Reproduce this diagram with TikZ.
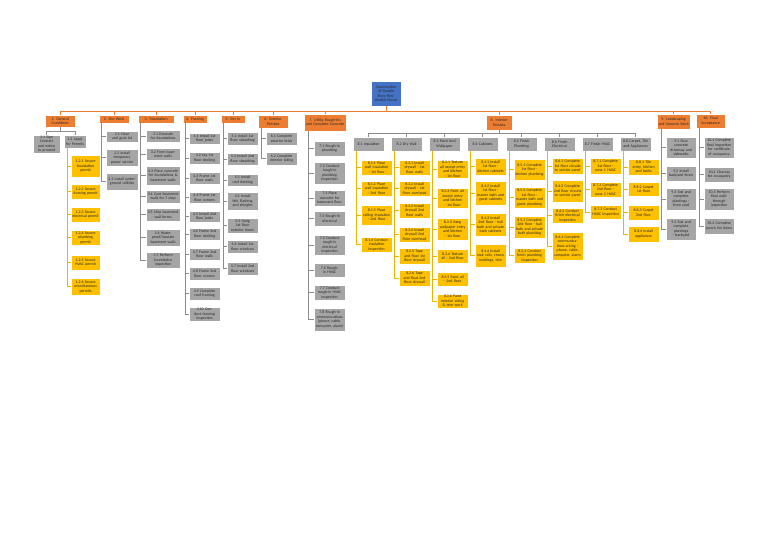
\documentclass[tikz,border=0pt]{standalone}
\usepackage{fontspec}
\setmainfont{Carlito}
\definecolor{orng}{HTML}{ED7D31}
\definecolor{blu}{HTML}{4472C4}
\definecolor{gry}{HTML}{A5A5A5}
\definecolor{gln}{HTML}{8C8C8C}
\definecolor{ylw}{HTML}{FFC000}
\definecolor{yln}{HTML}{F0B400}
\definecolor{txt}{HTML}{262626}
\tikzset{
 bxbase/.style={rectangle, align=center, inner xsep=1.1pt, inner ysep=0.3pt,
   font=\fontsize{3.9}{4.5}\selectfont, text=txt, draw=white, line width=0.2pt},
 rootbox/.style={bxbase, fill=blu},
 obox/.style={bxbase, fill=orng},
 gbox/.style={bxbase, fill=gry},
 ybox/.style={bxbase, fill=ylw},
 oline/.style={draw=orng, line width=0.5pt},
 gline/.style={draw=gln, line width=0.45pt},
 yline/.style={draw=yln, line width=0.45pt},
}
\newcommand\Bx[7]{%
  \pgfmathsetmacro\bxtw{#5-2.4}%
  \node[#1, anchor=north west, minimum width=#5pt, minimum height=#6pt, text width=\bxtw pt] (#2) at (#3,#4) {#7};}
\begin{document}
\begin{tikzpicture}[x=1pt,y=-1pt]
\fill[white] (0,0) rectangle (768,543);
\useasboundingbox (0,0) rectangle (768,543);
% root
\Bx{rootbox}{root}{371}{81}{30}{25}{Construction of Double Story Residential House}
% level 1
\Bx{obox}{n1}{45}{115}{30}{12}{1. General Conditions}
\Bx{obox}{n2}{99}{115}{30}{8}{2. Site Work}
\Bx{obox}{n3}{138}{115}{36}{8}{3. Foundation}
\Bx{obox}{n4}{183}{115}{24}{8}{4. Framing}
\Bx{obox}{n5}{221}{115}{24}{8}{5. Dry In}
\Bx{obox}{n6}{258}{115}{30}{13}{6. Exterior Finishes}
\Bx{obox}{n7}{304}{114}{42}{17}{7. Utility Rough-Ins and Complete Concrete}
\Bx{obox}{n8}{486}{115}{26}{15}{8. Interior Finishes}
\Bx{obox}{n9}{657}{114}{33}{15}{9. Landscaping and Grounds Work}
\Bx{obox}{n10}{696}{114}{29}{14}{10. Final Acceptance}
% 1
\Bx{gbox}{c1-1}{33}{135}{27}{18}{1.1 Sign Contract and notice to proceed}
\Bx{gbox}{c1-2}{64}{135}{22}{13}{1.2 Apply for Permits}
\Bx{ybox}{c1-2-1}{71}{155}{29}{22}{1.2.1 Secure foundation permit}
\Bx{ybox}{c1-2-2}{71}{184}{29}{15}{1.2.2 Secure framing permit}
\Bx{ybox}{c1-2-3}{71}{207}{29}{15}{1.2.3 Secure electrical permit}
\Bx{ybox}{c1-2-4}{71}{230}{29}{15}{1.2.4 Secure plumbing permit}
\Bx{ybox}{c1-2-5}{71}{255}{29}{15}{1.2.5 Secure HVAC permit}
\Bx{ybox}{c1-2-6}{71}{278}{29}{17}{1.2.6 Secure miscellaneous permits}
% 2
\Bx{gbox}{c2-1}{106}{131}{32}{11}{2.1 Clear and grub lot}
\Bx{gbox}{c2-2}{106}{149}{32}{17}{2.2 Install temporary power service}
\Bx{gbox}{c2-3}{106}{173}{32}{17}{2.3 Install underground utilities}
% 3
\Bx{gbox}{c3-1}{146}{130}{34}{12}{3.1 Excavate for foundations}
\Bx{gbox}{c3-2}{146}{148}{34}{12}{3.2 Form basement walls}
\Bx{gbox}{c3-3}{146}{166}{34}{19}{3.3 Place concrete for foundations \& basement walls}
\Bx{gbox}{c3-4}{146}{190}{34}{13}{3.4 Cure basement walls for 7 days}
\Bx{gbox}{c3-5}{146}{208}{34}{13}{3.5 Strip basement wall forms}
\Bx{gbox}{c3-6}{146}{229}{34}{17}{3.6 Waterproof/insulate basement walls}
\Bx{gbox}{c3-7}{146}{252}{34}{16}{3.7 Perform foundation inspection}
% 4
\Bx{gbox}{c4-1}{189}{133}{31}{11}{4.1 Install 1st floor joists}
\Bx{gbox}{c4-2}{189}{152}{31}{12}{4.2 Lay 1st floor decking}
\Bx{gbox}{c4-3}{189}{172}{31}{12}{4.3 Frame 1st floor walls}
\Bx{gbox}{c4-4}{189}{192}{31}{11}{4.4 Frame 1st floor corners}
\Bx{gbox}{c4-5}{189}{211}{31}{11}{4.5 Install 2nd floor joists}
\Bx{gbox}{c4-6}{189}{228}{31}{12}{4.6 Frame 2nd floor decking}
\Bx{gbox}{c4-7}{189}{248}{31}{12}{4.7 Frame 2nd floor walls}
\Bx{gbox}{c4-8}{189}{267}{31}{13}{4.8 Frame 2nd floor corners}
\Bx{gbox}{c4-9}{189}{287}{31}{13}{4.9 Complete roof framing}
\Bx{gbox}{c4-10}{189}{307}{31}{14}{4.10 Conduct framing inspection}
% 5
\Bx{gbox}{c5-1}{227}{132}{31}{13}{5.1 Install 1st floor sheathing}
\Bx{gbox}{c5-2}{227}{153}{31}{12}{5.2 Install 2nd floor sheathing}
\Bx{gbox}{c5-3}{227}{174}{31}{12}{5.3 Install roof decking}
\Bx{gbox}{c5-4}{227}{192}{31}{18}{5.4 Install felt, flashing and shingles}
\Bx{gbox}{c5-5}{227}{218}{31}{15}{5.5 Hang 1st floor exterior doors}
\Bx{gbox}{c5-6}{227}{240}{31}{13}{5.6 Install 1st floor windows}
\Bx{gbox}{c5-7}{227}{262}{31}{13}{5.7 Install 2nd floor windows}
% 6
\Bx{gbox}{c6-1}{266}{132}{31}{13}{6.1 Complete exterior brick}
\Bx{gbox}{c6-2}{266}{152}{31}{13}{6.2 Complete exterior siding}
% 7
\Bx{gbox}{c7-1}{314}{141}{31}{15}{7.1 Rough-in plumbing}
\Bx{gbox}{c7-2}{314}{162}{31}{22}{7.2 Conduct rough-in plumbing inspection}
\Bx{gbox}{c7-3}{314}{190}{31}{16}{7.3 Place concrete for basement floor}
\Bx{gbox}{c7-4}{314}{211}{31}{15}{7.4 Rough-in electrical}
\Bx{gbox}{c7-5}{314}{235}{31}{20}{7.5 Conduct rough-in electrical inspection}
\Bx{gbox}{c7-6}{314}{263}{31}{14}{7.6 Rough-in HVAC}
\Bx{gbox}{c7-7}{314}{285}{31}{15}{7.7 Conduct rough-in HVAC inspection}
\Bx{gbox}{c7-8}{314}{308}{31}{23}{7.8 Rough-in communications (phone, cable, computer, alarm)}
% 8
\Bx{gbox}{c8-1}{353}{137}{31}{14}{8.1 Insulation}
\Bx{gbox}{c8-2}{391}{137}{31}{14}{8.2 Dry Wall}
\Bx{gbox}{c8-3}{429}{137}{31}{14}{8.3 Paint And Wallpaper}
\Bx{gbox}{c8-4}{467}{137}{31}{14}{8.4 Cabinets}
\Bx{gbox}{c8-5}{506}{137}{31}{14}{8.5 Finish Plumbing}
\Bx{gbox}{c8-6}{544}{137}{31}{14}{8.6 Finish Electrical}
\Bx{gbox}{c8-7}{582}{137}{31}{14}{8.7 Finish HVAC}
\Bx{gbox}{c8-8}{620}{137}{31}{14}{8.8 Carpet, Tile and Appliances}
% 8.1
\Bx{ybox}{c8-1-1}{361}{160}{31}{15}{8.1.1 Place wall insulation - 1st floor}
\Bx{ybox}{c8-1-2}{361}{181}{31}{15}{8.1.2 Place wall insulation - 2nd floor}
\Bx{ybox}{c8-1-3}{361}{205}{31}{20}{8.1.3 Place ceiling insulation - 2nd floor}
\Bx{ybox}{c8-1-4}{361}{237}{31}{15}{8.1.4 Conduct insulation inspection}
% 8.2
\Bx{ybox}{c8-2-1}{399}{160}{31}{15}{8.2.1 Install drywall - 1st floor walls}
\Bx{ybox}{c8-2-2}{399}{181}{31}{15}{8.2.2 Install drywall - 1st floor overhead}
\Bx{ybox}{c8-2-3}{399}{203}{31}{15}{8.2.3 Install drywall 2nd floor walls}
\Bx{ybox}{c8-2-4}{399}{227}{31}{15}{8.2.4 Install drywall 2nd floor overhead}
\Bx{ybox}{c8-2-5}{399}{248}{31}{16}{8.2.5 Tape and float 1st floor drywall}
\Bx{ybox}{c8-2-6}{399}{270}{31}{16}{8.2.6 Tape and float 2nd floor drywall}
% 8.3
\Bx{ybox}{c8-3-1}{437}{160}{31}{18}{8.3.1 Texture all except entry and kitchen - 1st floor}
\Bx{ybox}{c8-3-2}{437}{188}{31}{20}{8.3.2 Paint all except entry and kitchen - 1st floor}
\Bx{ybox}{c8-3-3}{437}{218}{31}{22}{8.3.3 Hang wallpaper entry and kitchen - 1st floor}
\Bx{ybox}{c8-3-4}{437}{249}{31}{14}{8.3.4 Texture all - 2nd floor}
\Bx{ybox}{c8-3-5}{437}{272}{31}{14}{8.3.5 Paint all - 2nd floor}
\Bx{ybox}{c8-3-6}{437}{294}{31}{14}{8.3.6 Paint exterior siding \& trim work}
% 8.4
\Bx{ybox}{c8-4-1}{475}{158}{31}{17}{8.4.1 Install 1st floor - kitchen cabinets}
\Bx{ybox}{c8-4-2}{475}{181}{31}{24}{8.4.2 Install 1st floor - master bath and guest cabinets}
\Bx{ybox}{c8-4-3}{475}{213}{31}{23}{8.4.3 Install 2nd floor - hall bath and private bath cabinets}
\Bx{ybox}{c8-4-4}{475}{244}{31}{23}{8.4.4 Install stair rails, crown moldings, trim}
% 8.5
\Bx{ybox}{c8-5-1}{514}{159}{31}{21}{8.5.1 Complete 1st floor - kitchen plumbing}
\Bx{ybox}{c8-5-2}{514}{187}{31}{21}{8.5.2 Complete 1st floor - master bath and guest plumbing}
\Bx{ybox}{c8-5-3}{514}{216}{31}{22}{8.5.3 Complete 2nd floor - hall bath and private bath plumbing}
\Bx{ybox}{c8-5-4}{514}{248}{31}{15}{8.5.4 Conduct finish plumbing inspection}
% 8.6
\Bx{ybox}{c8-6-1}{552}{158}{31}{16}{8.6.1 Complete 1st floor circuits to service panel}
\Bx{ybox}{c8-6-2}{552}{180}{31}{22}{8.6.2 Complete 2nd floor circuits to service panel}
\Bx{ybox}{c8-6-3}{552}{208}{31}{15}{8.6.3 Conduct finish electrical inspection}
\Bx{ybox}{c8-6-4}{552}{232}{31}{28}{8.6.4 Complete communications wiring - phone, cable, computer, alarm}
% 8.7
\Bx{ybox}{c8-7-1}{590}{158}{31}{16}{8.7.1 Complete 1st floor - zone 1 HVAC}
\Bx{ybox}{c8-7-2}{590}{182}{31}{15}{8.7.2 Complete 2nd floor - zone 2 HVAC}
\Bx{ybox}{c8-7-3}{590}{205}{31}{14}{8.7.3 Conduct HVAC inspection}
% 8.8
\Bx{ybox}{c8-8-1}{628}{159}{31}{16}{8.8.1 Tile entry, kitchen and baths}
\Bx{ybox}{c8-8-2}{628}{182}{31}{14}{8.8.2 Carpet 1st floor}
\Bx{ybox}{c8-8-3}{628}{205}{31}{15}{8.8.3 Carpet 2nd floor}
\Bx{ybox}{c8-8-4}{628}{226}{31}{16}{8.8.4 Install appliances}
% 9
\Bx{gbox}{c9-1}{666}{137}{30}{21}{9.1 Pour concrete driveway and sidewalks}
\Bx{gbox}{c9-2}{666}{166}{30}{15}{9.2 Install backyard fence}
\Bx{gbox}{c9-3}{666}{188}{30}{22}{9.3 Sod and complete plantings - front yard}
\Bx{gbox}{c9-4}{666}{218}{30}{22}{9.4 Sod and complete plantings - backyard}
% 10
\Bx{gbox}{c10-1}{704}{137}{30}{21}{10.1 Complete final inspection for certificate of occupancy}
\Bx{gbox}{c10-2}{704}{167}{30}{15}{10.2 Cleanup for occupancy}
\Bx{gbox}{c10-3}{704}{188}{30}{22}{10.3 Perform final walk-through inspection}
\Bx{gbox}{c10-4}{704}{218}{30}{16}{10.4 Complete punch list items}

% ---- connectors ----
\coordinate (bus) at ([yshift=-5pt]root.south);
\draw[oline] (root.south) -- (bus);
\draw[oline] (bus -| n1.north) -- (bus -| n10.north);
\foreach \n in {n1,n2,n3,n4,n5,n6,n7,n8,n9,n10} \draw[oline] (bus -| \n.north) -- (\n.north);
% 1
\coordinate (bus1) at ([yshift=-4pt]n1.south);
\draw[gline] (n1.south) -- (bus1);
\draw[gline] (bus1 -| c1-1.north) -- (bus1 -| c1-2.north);
\foreach \c in {c1-1,c1-2} \draw[gline] (bus1 -| \c.north) -- (\c.north);
\coordinate (s12) at ([xshift=3pt]c1-2.south west);
\foreach \c in {c1-2-1,c1-2-2,c1-2-3,c1-2-4,c1-2-5,c1-2-6} \draw[yline] (s12) |- (\c.west);
% 2..7, 9, 10
\coordinate (s2) at ([xshift=2pt]n2.south west);
\foreach \c in {c2-1,c2-2,c2-3} \draw[gline] (s2) |- (\c.west);
\coordinate (s3) at ([xshift=2pt]n3.south west);
\foreach \c in {c3-1,c3-2,c3-3,c3-4,c3-5,c3-6,c3-7} \draw[gline] (s3) |- (\c.west);
\coordinate (s4) at ([xshift=2pt]n4.south west);
\foreach \c in {c4-1,c4-2,c4-3,c4-4,c4-5,c4-6,c4-7,c4-8,c4-9,c4-10} \draw[gline] (s4) |- (\c.west);
\coordinate (s5) at ([xshift=2pt]n5.south west);
\foreach \c in {c5-1,c5-2,c5-3,c5-4,c5-5,c5-6,c5-7} \draw[gline] (s5) |- (\c.west);
\coordinate (s6) at ([xshift=3pt]n6.south west);
\foreach \c in {c6-1,c6-2} \draw[gline] (s6) |- (\c.west);
\coordinate (s7) at ([xshift=4pt]n7.south west);
\foreach \c in {c7-1,c7-2,c7-3,c7-4,c7-5,c7-6,c7-7,c7-8} \draw[gline] (s7) |- (\c.west);
\coordinate (s9) at ([xshift=4pt]n9.south west);
\foreach \c in {c9-1,c9-2,c9-3,c9-4} \draw[gline] (s9) |- (\c.west);
\coordinate (s10) at ([xshift=3pt]n10.south west);
\foreach \c in {c10-1,c10-2,c10-3,c10-4} \draw[gline] (s10) |- (\c.west);
% 8
\coordinate (bus8) at ([yshift=-3pt]n8.south);
\draw[gline] (n8.south) -- (bus8);
\draw[gline] (bus8 -| c8-1.north) -- (bus8 -| c8-8.north);
\foreach \c in {c8-1,c8-2,c8-3,c8-4,c8-5,c8-6,c8-7,c8-8} \draw[gline] (bus8 -| \c.north) -- (\c.north);
\coordinate (s81) at ([xshift=3pt]c8-1.south west);
\foreach \c in {c8-1-1,c8-1-2,c8-1-3,c8-1-4} \draw[yline] (s81) |- (\c.west);
\coordinate (s82) at ([xshift=3pt]c8-2.south west);
\foreach \c in {c8-2-1,c8-2-2,c8-2-3,c8-2-4,c8-2-5,c8-2-6} \draw[yline] (s82) |- (\c.west);
\coordinate (s83) at ([xshift=3pt]c8-3.south west);
\foreach \c in {c8-3-1,c8-3-2,c8-3-3,c8-3-4,c8-3-5,c8-3-6} \draw[yline] (s83) |- (\c.west);
\coordinate (s84) at ([xshift=3pt]c8-4.south west);
\foreach \c in {c8-4-1,c8-4-2,c8-4-3,c8-4-4} \draw[yline] (s84) |- (\c.west);
\coordinate (s85) at ([xshift=3pt]c8-5.south west);
\foreach \c in {c8-5-1,c8-5-2,c8-5-3,c8-5-4} \draw[yline] (s85) |- (\c.west);
\coordinate (s86) at ([xshift=3pt]c8-6.south west);
\foreach \c in {c8-6-1,c8-6-2,c8-6-3,c8-6-4} \draw[yline] (s86) |- (\c.west);
\coordinate (s87) at ([xshift=3pt]c8-7.south west);
\foreach \c in {c8-7-1,c8-7-2,c8-7-3} \draw[yline] (s87) |- (\c.west);
\coordinate (s88) at ([xshift=3pt]c8-8.south west);
\foreach \c in {c8-8-1,c8-8-2,c8-8-3,c8-8-4} \draw[yline] (s88) |- (\c.west);
\end{tikzpicture}
\end{document}
